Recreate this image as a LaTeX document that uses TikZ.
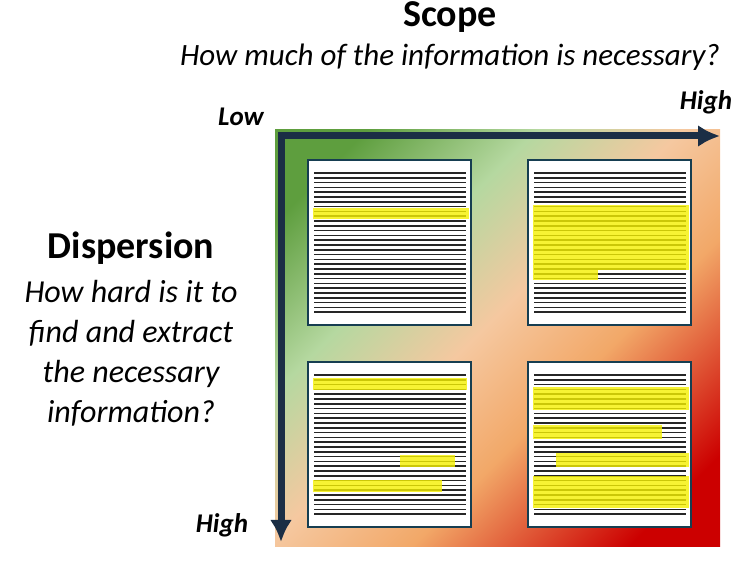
\documentclass[tikz,border=0pt]{standalone}
\usepackage{fontspec}
\setmainfont{Carlito}
\usetikzlibrary{arrows.meta}
\definecolor{lgr}{HTML}{B5D8A0}
\definecolor{peach}{HTML}{F5C8A0}
\definecolor{orng}{HTML}{F2A868}
\definecolor{rd}{HTML}{CC0000}
\definecolor{grn}{HTML}{5E9E3E}
\definecolor{navy}{HTML}{1B2E45}
\definecolor{hl}{HTML}{F5F000}
\tikzset{doc/.style={draw=navy!80!teal,line width=1.5pt,fill=white},
 txtline/.style={line width=1.6pt,black!85},
 hil/.style={fill=hl,opacity=0.8},
 corner/.style={font=\fontsize{27}{30}\selectfont\bfseries\itshape}}
\begin{document}
\begin{tikzpicture}[x=1pt,y=-1pt]
\useasboundingbox (0,0) rectangle (756,561);
\pgfdeclarehorizontalshading{diagB}{100bp}{color(0bp)=(grn);color(22bp)=(grn);color(36bp)=(lgr);color(48bp)=(peach);color(60bp)=(orng);color(78bp)=(rd);color(100bp)=(rd)}
\shade[shading=diagB,shading angle=-45] (275,130) rectangle (720,547);
% documents
\foreach \x/\y/\n in {308/160/a,528/160/b,308/362/c,528/362/d}{
  \draw[doc] (\x,\y) rectangle ++(163,165);
  \foreach \i in {0,...,29}{
    \draw[txtline] (\x+6,\y+13+\i*4.8) -- (\x+158,\y+13+\i*4.8);
  }
}
\fill[hil] (313,208) rectangle (469,219);
\fill[hil] (533,205) rectangle (689,270);
\fill[hil] (533,270) rectangle (598,280);
\fill[hil] (313,378) rectangle (467,390);
\fill[hil] (400,455) rectangle (455,467);
\fill[hil] (313,480) rectangle (442,492);
\fill[hil] (533,387) rectangle (689,410);
\fill[hil] (533,425) rectangle (662,439);
\fill[hil] (556,453) rectangle (689,467);
\fill[hil] (533,476) rectangle (689,508);
% axes
\coordinate (o) at (281,136);
\coordinate (xe) at (720,136);
\coordinate (ye) at (281,542);
\draw[navy,line width=7pt,line cap=rect,-{Latex[length=22pt,width=22pt]}] (o) -- (xe);
\draw[navy,line width=7pt,line cap=rect,-{Latex[length=22pt,width=22pt]}] (o) -- (ye);
% texts
\node[font=\fontsize{38}{40}\selectfont\bfseries] (scope) at (450,17) {Scope};
\node[font=\fontsize{31}{34}\selectfont\itshape] (scq) at (450,57) {How much of the information is necessary?};
\node[font=\fontsize{38}{40}\selectfont\bfseries] (disp) at (131,248) {Dispersion};
\node[align=center,font=\fontsize{32}{40}\selectfont\itshape] (dq) at (131,353) {How hard is it to\\ find and extract\\ the necessary\\ information?};
\node[corner] (low) at (241,117) {Low};
\node[corner] (hx) at (706,102) {High};
\node[corner] (hy) at (222,525) {High};
\end{tikzpicture}
\end{document}
